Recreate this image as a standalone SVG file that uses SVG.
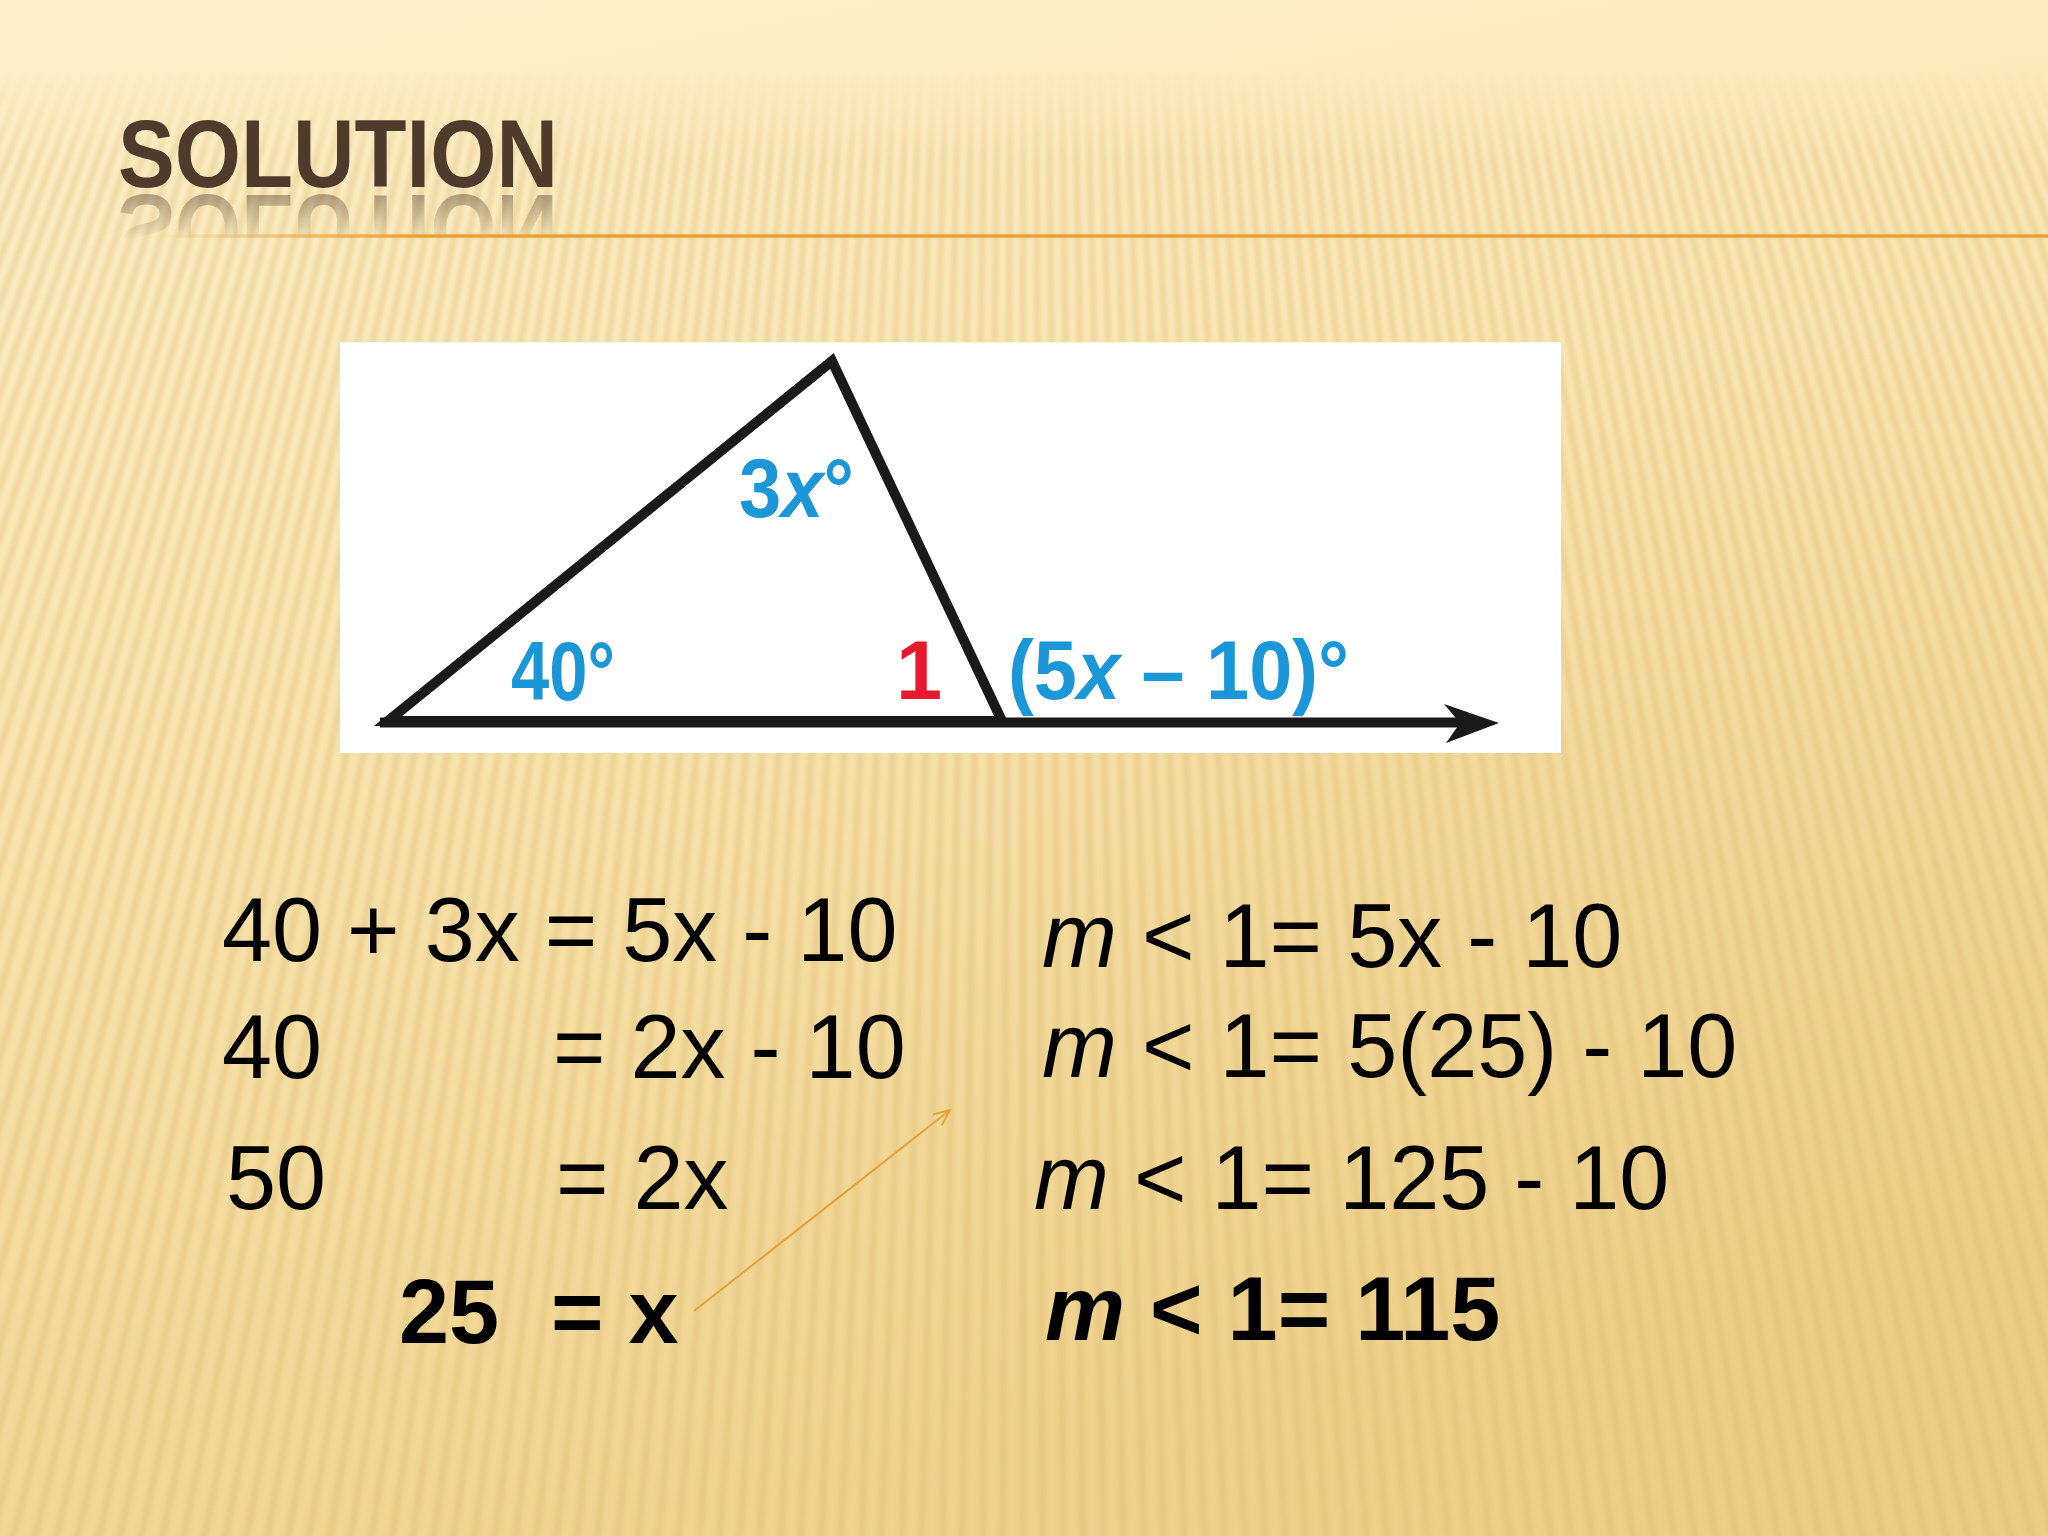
<svg xmlns="http://www.w3.org/2000/svg" width="2048" height="1536" viewBox="0 0 2048 1536">
  <defs>
    <linearGradient id="bg" x1="0" y1="0" x2="0.25" y2="1">
      <stop offset="0" stop-color="#fdf0c9"/>
      <stop offset="0.08" stop-color="#fcefc6"/>
      <stop offset="0.5" stop-color="#f8e4ae"/>
      <stop offset="1" stop-color="#f1d592"/>
    </linearGradient>
    <radialGradient id="shade" cx="1" cy="0.95" r="0.75">
      <stop offset="0" stop-color="#e6c678" stop-opacity="0.5"/>
      <stop offset="1" stop-color="#e6c678" stop-opacity="0"/>
    </radialGradient>
    <linearGradient id="stripeFade" gradientUnits="userSpaceOnUse" x1="0" y1="70" x2="0" y2="160">
      <stop offset="0" stop-color="#fff" stop-opacity="0"/>
      <stop offset="1" stop-color="#fff" stop-opacity="1"/>
    </linearGradient>
    <mask id="stripeMask" maskUnits="userSpaceOnUse" x="0" y="0" width="2048" height="1536">
      <rect x="0" y="0" width="2048" height="1536" fill="url(#stripeFade)"/>
    </mask>
    <filter id="soft" filterUnits="userSpaceOnUse" x="0" y="0" width="2048" height="1536">
      <feGaussianBlur stdDeviation="2"/>
    </filter>
    <linearGradient id="reflFade" gradientUnits="userSpaceOnUse" x1="0" y1="192" x2="0" y2="240">
      <stop offset="0" stop-color="#fff" stop-opacity="0.45"/>
      <stop offset="1" stop-color="#fff" stop-opacity="0"/>
    </linearGradient>
    <mask id="reflMask" maskUnits="userSpaceOnUse" x="0" y="0" width="2048" height="1536">
      <rect x="0" y="185" width="800" height="80" fill="url(#reflFade)"/>
    </mask>
    <linearGradient id="ruleGrad" gradientUnits="userSpaceOnUse" x1="150" y1="0" x2="420" y2="0">
      <stop offset="0" stop-color="#eda035" stop-opacity="0"/>
      <stop offset="1" stop-color="#eda035" stop-opacity="1"/>
    </linearGradient>
    <marker id="openArrow" viewBox="0 0 20 20" refX="18" refY="10" markerWidth="20" markerHeight="20" markerUnits="userSpaceOnUse" orient="auto">
      <polyline points="2,3 18,10 2,17" fill="none" stroke="#eda035" stroke-width="2"/>
    </marker>
    <style>
      .eq { font-family: "Liberation Sans", Arial, sans-serif; font-size: 90px; fill: #000; }
      .eqb { font-family: "Liberation Sans", Arial, sans-serif; font-size: 90px; font-weight: bold; fill: #000; }
      .it { font-style: italic; }
      .lbl { font-family: "Liberation Sans", Arial, sans-serif; font-size: 83px; font-weight: bold; fill: #1b96d6; }
      .red { font-family: "Liberation Sans", Arial, sans-serif; font-size: 83px; font-weight: bold; fill: #e8192c; }
      .title { font-family: "Liberation Sans", Arial, sans-serif; font-size: 96px; font-weight: bold; fill: #4e3b2c; }
      .edge { fill: none; stroke: #1a1a1a; stroke-width: 10; stroke-linejoin: miter; }
    </style>
  </defs>

  <g id="background">
    <rect x="0" y="0" width="2048" height="1536" fill="url(#bg)"/>
    <rect x="0" y="0" width="2048" height="1536" fill="url(#shade)"/>
    <g mask="url(#stripeMask)">
      <circle cx="1024" cy="-2500" r="3300" fill="none" stroke="#d9b86c" stroke-opacity="0.35" stroke-width="3400" stroke-dasharray="7 9.5" filter="url(#soft)"/>
    </g>
  </g>

  <g id="title">
    <text class="title" x="118" y="187" textLength="440" lengthAdjust="spacingAndGlyphs">SOLUTION</text>
    <g mask="url(#reflMask)">
      <text class="title" x="118" y="187" textLength="440" lengthAdjust="spacingAndGlyphs" transform="translate(0,382) scale(1,-1)">SOLUTION</text>
    </g>
    <line x1="150" y1="236" x2="2048" y2="236" stroke="url(#ruleGrad)" stroke-width="3.5"/>
  </g>

  <g id="figure">
    <rect x="340" y="342" width="1221" height="411" fill="#ffffff"/>
    <polygon class="edge" points="388,721 832,361 1002,721"/>
    <line x1="380" y1="722.5" x2="1462" y2="722.5" stroke="#1a1a1a" stroke-width="10"/>
    <polygon points="1499,723 1444,704 1460,723 1446,743" fill="#1a1a1a"/>
    <text class="lbl" x="739" y="517" textLength="115" lengthAdjust="spacingAndGlyphs">3<tspan class="it">x</tspan>°</text>
    <text class="lbl" x="511" y="700" textLength="104" lengthAdjust="spacingAndGlyphs">40°</text>
    <text class="red" x="896" y="699">1</text>
    <text class="lbl" x="1008" y="699" textLength="341" lengthAdjust="spacingAndGlyphs">(5<tspan class="it">x</tspan> – 10)°</text>
  </g>

  <g id="equations-left">
    <text class="eq" x="222" y="961">40 + 3x = 5x - 10</text>
    <text class="eq" x="222" y="1078">40</text>
    <text class="eq" x="553" y="1078">= 2x - 10</text>
    <text class="eq" x="226" y="1209">50</text>
    <text class="eq" x="556" y="1209">= 2x</text>
    <text class="eqb" x="399" y="1343">25</text>
    <text class="eqb" x="551" y="1343">= x</text>
  </g>

  <g id="equations-right">
    <text class="eq" x="1042" y="967"><tspan class="it">m</tspan> &lt; 1= 5x - 10</text>
    <text class="eq" x="1042" y="1077"><tspan class="it">m</tspan> &lt; 1= 5(25) - 10</text>
    <text class="eq" x="1034" y="1209"><tspan class="it">m</tspan> &lt; 1= 125 - 10</text>
    <text class="eqb" x="1045" y="1340"><tspan class="it">m</tspan> &lt; 1= 115</text>
  </g>

  <g id="connectors">
    <line x1="694" y1="1311" x2="950" y2="1110" stroke="#eda035" stroke-width="2" marker-end="url(#openArrow)"/>
  </g>
</svg>
